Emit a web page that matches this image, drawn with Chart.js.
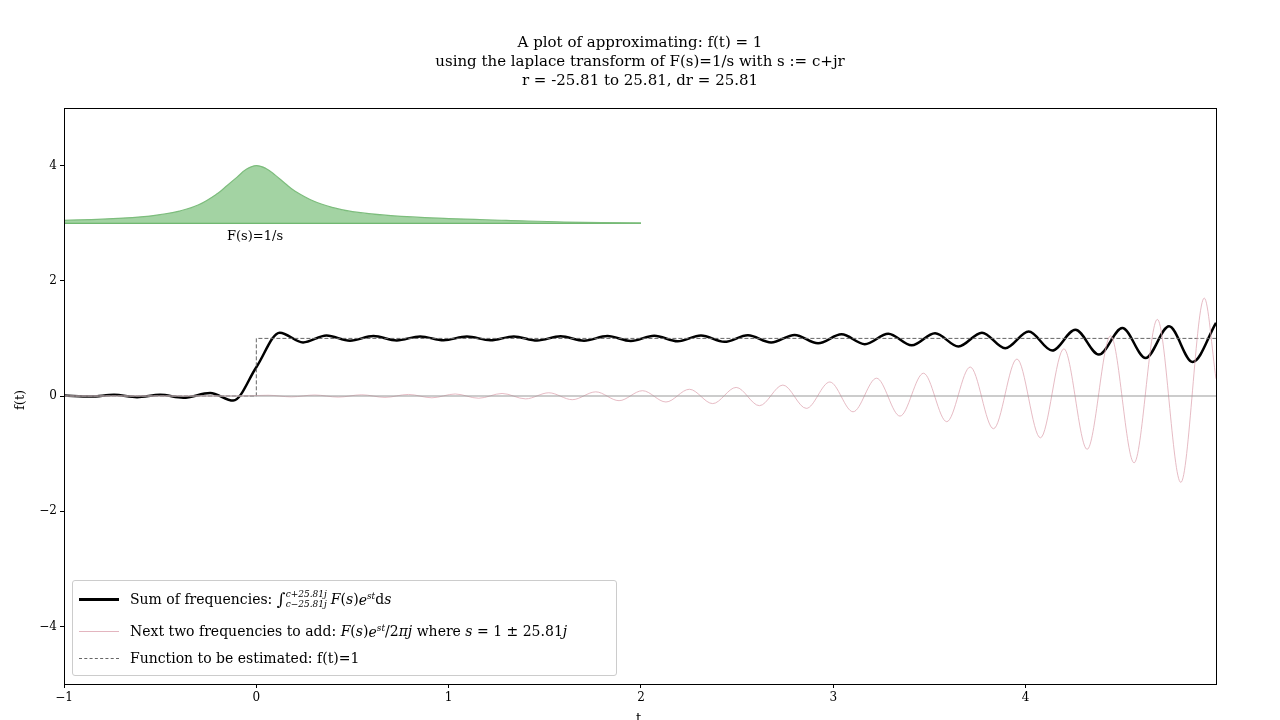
<!DOCTYPE html>
<html lang="en">
<head>
<meta charset="UTF-8" />
<title>Laplace approximation</title>
<script src="https://cdn.jsdelivr.net/npm/chart.js"></script>
<style>
  body { margin: 0; background: #fff; font-family: "DejaVu Serif", "Liberation Serif", serif; }
  .wrap { position: relative; width: 1280px; height: 720px; }
  .title { position: absolute; top: 33px; left: 0; width: 1280px; text-align: center; font-size: 15px; line-height: 19px; color: #000; }
  .legend { position: absolute; left: 72px; top: 580px; width: 543px; height: 94px; border: 1px solid #ccc; border-radius: 3px; background: rgba(255,255,255,0.85); font-size: 14px; }
  .legend .row { position: absolute; left: 6px; height: 20px; display: flex; align-items: center; }
  .legend .sw { width: 40px; margin-right: 11px; }
  .legend sup, .legend sub { font-size: 9px; }
  .ylab { position: absolute; left: 12px; top: 410px; transform: rotate(-90deg); transform-origin: left top; font-size: 13px; }
  .xlab { position: absolute; left: 636px; top: 710px; font-size: 13px; }
  .flab { position: absolute; left: 227px; top: 228px; font-size: 13px; }
</style>
</head>
<body>
<div class="wrap">
  <canvas id="chart" width="1280" height="720"></canvas>
  <div class="title">A plot of approximating: f(t) = 1<br>using the laplace transform of F(s)=1/s with s := c+jr<br>r = -25.81 to 25.81, dr = 25.81</div>
  <div class="flab">F(s)=1/s</div>
  <div class="ylab">f(t)</div>
  <div class="xlab">t</div>
  <div class="legend">
    <div class="row" style="top:8px"><div class="sw" style="border-top:3px solid #000"></div>Sum of frequencies:&nbsp;<span style="font-size:17px">&int;</span><span style="display:inline-flex;flex-direction:column;font-size:9px;line-height:10px;margin-right:4px"><i>c+25.81j</i><i>c&minus;25.81j</i></span><i>F</i>(<i>s</i>)<i>e<sup>st</sup></i>d<i>s</i></div>
    <div class="row" style="top:40px"><div class="sw" style="border-top:1px solid #e3b5bf"></div>Next two frequencies to add:&nbsp;<i>F</i>(<i>s</i>)<i>e<sup>st</sup></i>/2<i>&pi;j</i>&nbsp;where&nbsp;<i>s</i>&nbsp;=&nbsp;1 &plusmn; 25.81<i>j</i></div>
    <div class="row" style="top:67px"><div class="sw" style="border-top:1px dashed #666"></div>Function to be estimated: f(t)=1</div>
  </div>
</div>
<script>
// black: sum of frequencies (extrema)
const sumT = [-1, -0.86, -0.74, -0.62, -0.5, -0.38, -0.24, -0.12, 0, 0.122, 0.243, 0.365, 0.487, 0.609, 0.730, 0.852, 0.974, 1.095, 1.217, 1.339, 1.460, 1.582, 1.704, 1.826, 1.947, 2.069, 2.191, 2.312, 2.434, 2.556, 2.677, 2.799, 2.921, 3.043, 3.164, 3.286, 3.408, 3.529, 3.651, 3.773, 3.894, 4.016, 4.138, 4.259, 4.381, 4.503, 4.624, 4.746, 4.868, 4.99];
const sumY = [0.01, -0.01, 0.02, -0.02, 0.02, -0.03, 0.05, -0.08, 0.5, 1.1, 0.93, 1.05, 0.96, 1.04, 0.965, 1.035, 0.966, 1.034, 0.966, 1.035, 0.964, 1.036, 0.96, 1.04, 0.955, 1.045, 0.95, 1.05, 0.94, 1.055, 0.93, 1.06, 0.915, 1.07, 0.9, 1.08, 0.88, 1.09, 0.86, 1.1, 0.83, 1.12, 0.79, 1.15, 0.72, 1.18, 0.66, 1.21, 0.59, 1.27];
// red: next two frequencies
const nextT = [-1, -0.5, -0.1, 0.061, 0.183, 0.304, 0.426, 0.548, 0.669, 0.791, 0.913, 1.034, 1.156, 1.278, 1.400, 1.521, 1.643, 1.765, 1.886, 2.008, 2.130, 2.252, 2.373, 2.495, 2.616, 2.738, 2.860, 2.982, 3.103, 3.225, 3.347, 3.469, 3.590, 3.712, 3.833, 3.955, 4.077, 4.199, 4.320, 4.442, 4.564, 4.685, 4.807, 4.929, 4.99];
const nextY = [0, 0, 0, 0.013, -0.015, 0.017, -0.019, 0.021, -0.024, 0.027, -0.031, 0.035, -0.039, 0.044, -0.05, 0.056, -0.064, 0.072, -0.081, 0.092, -0.104, 0.117, -0.132, 0.149, -0.168, 0.19, -0.215, 0.243, -0.274, 0.309, -0.349, 0.395, -0.446, 0.503, -0.568, 0.642, -0.726, 0.819, -0.925, 1.044, -1.16, 1.33, -1.5, 1.7, 0.3];
// green: |F(s)| profile drawn on top of baseline 3
const specT = [-1, -0.8, -0.6, -0.5, -0.4, -0.3, -0.2, -0.15, -0.1, -0.05, 0, 0.05, 0.1, 0.15, 0.2, 0.3, 0.4, 0.5, 0.7, 1, 1.3, 1.6, 2];
const specY = [3.05, 3.07, 3.11, 3.15, 3.21, 3.32, 3.52, 3.66, 3.8, 3.94, 4.0, 3.95, 3.83, 3.69, 3.56, 3.38, 3.27, 3.2, 3.13, 3.08, 3.05, 3.02, 3.0];
const stepT = [-1, 0, 0, 4.99];
const stepY = [0, 0, 1, 1];
const xTicks = [-1, 0, 1, 2, 3, 4];
const yTicks = [-4, -2, 0, 2, 4];

const pts = (xs, ys) => xs.map((x, i) => ({ x: x, y: ys[i] }));

const frame = {
  id: 'frame',
  afterDraw(c) {
    const a = c.chartArea, g = c.ctx;
    g.save(); g.strokeStyle = '#000'; g.lineWidth = 1;
    g.strokeRect(a.left + 0.5, a.top + 0.5, a.right - a.left, a.bottom - a.top);
    g.restore();
  }
};

const serif = { family: '"DejaVu Serif", "Liberation Serif", serif', size: 12 };

new Chart(document.getElementById('chart'), {
  type: 'line',
  data: {
    datasets: [
      { data: pts([-1, 4.99], [0, 0]), borderColor: '#999', borderWidth: 1, pointRadius: 0, tension: 0 },
      { data: pts(specT, specY), borderColor: '#7dbd7d', backgroundColor: 'rgba(140,200,140,0.8)', borderWidth: 1.2, pointRadius: 0, tension: 0.4, fill: { value: 3 } },
      { data: pts([-1, 2], [3, 3]), borderColor: '#6bb56b', borderWidth: 1.5, pointRadius: 0 },
      { data: pts(nextT, nextY), borderColor: '#dfa9b5', borderWidth: 0.8, pointRadius: 0, cubicInterpolationMode: 'monotone' },
      { data: pts(stepT, stepY), borderColor: '#666', borderWidth: 1, borderDash: [4, 2], pointRadius: 0, tension: 0 },
      { data: pts(sumT, sumY), borderColor: '#000', borderWidth: 2.5, pointRadius: 0, cubicInterpolationMode: 'monotone' }
    ]
  },
  options: {
    responsive: false,
    animation: false,
    layout: { padding: { left: 14, right: 64, top: 108, bottom: 0 } },
    plugins: { legend: { display: false }, tooltip: { enabled: false } },
    scales: {
      x: {
        type: 'linear', min: -1, max: 4.99,
        afterBuildTicks: s => { s.ticks = xTicks.map(v => ({ value: v })); },
        afterFit: s => { s.height = 36; },
        grid: { drawOnChartArea: false, tickLength: 4, color: '#000' },
        border: { display: false },
        ticks: { color: '#000', font: serif, callback: v => v < 0 ? '\u2212' + Math.abs(v) : v }
      },
      y: {
        min: -5, max: 5,
        afterBuildTicks: s => { s.ticks = yTicks.map(v => ({ value: v })); },
        afterFit: s => { s.width = 50; },
        grid: { drawOnChartArea: false, tickLength: 4, color: '#000' },
        border: { display: false },
        ticks: { color: '#000', font: serif, callback: v => v < 0 ? '\u2212' + Math.abs(v) : v }
      }
    }
  },
  plugins: [frame]
});
</script>
</body>
</html>
